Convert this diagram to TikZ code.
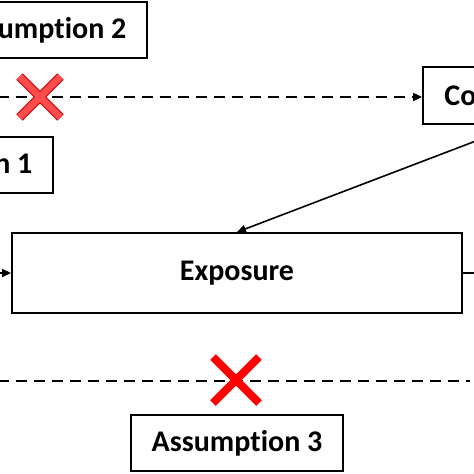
\documentclass[tikz,border=0pt]{standalone}
\usepackage{fontspec}
\setmainfont{Carlito}[Ligatures=NoCommon]
\usetikzlibrary{arrows.meta, positioning, shapes.misc}

\begin{document}
\begin{tikzpicture}[
  x=1pt, y=-1pt,
  box/.style={rectangle, draw, line width=1.8pt, fill=white, text centered, minimum height=56pt, minimum width=212pt, font=\fontsize{30}{36}\selectfont\bfseries},
  arrow/.style={-{Triangle[length=9pt,width=8pt]}, line width=1.6pt},
  dashline/.style={line width=1.8pt, dash pattern=on 11pt off 7pt},
  nope/.style={cross out, inner sep=0pt, minimum size=40pt}
]
\clip (0,0) rectangle (474,474);

\node[box] (as2) at (41,30) {Assumption 2};
\node[box] (as1) at (-53,165) {Assumption 1};
\node[box, minimum width=190pt, minimum height=57pt] (conf) at (518,95.5) {Confounder};
\node[box, minimum width=450pt, minimum height=80pt] (expo) at (237,273) {Exposure};
\node[box] (as3) at (237,443) {Assumption 3};

% free ends outside the frame
\coordinate (leftA) at (-20,97);
\coordinate (leftB) at (-20,273);
\coordinate (rightB) at (490,273);
\coordinate (leftC) at (-20,381);
\coordinate (rightC) at (470,381);

\draw[arrow, dashline] (leftA) -- (conf.west |- leftA);
\draw[arrow] (conf.south) -- (expo.north);
\draw[arrow] (leftB) -- (expo.west);
\draw[line width=1.6pt] (expo.east) -- (rightB);
\draw[dashline] (leftC) -- (rightC);

% crossed-out paths
\node[nope, draw=red!80!black, line width=1pt, double=red!70, double distance=7pt] (x1) at (40,97) {};
\node[nope, draw=red, line width=8pt, minimum size=38pt] (x2) at (236,380) {};
\end{tikzpicture}
\end{document}
